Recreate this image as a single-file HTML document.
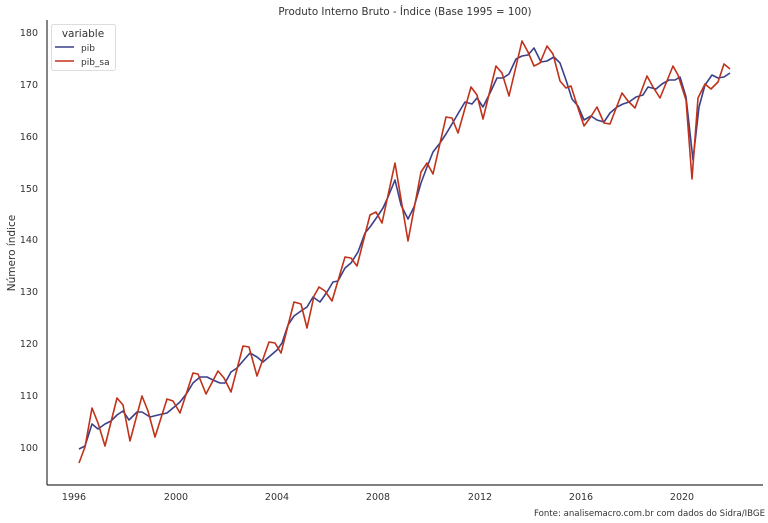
<!DOCTYPE html>
<html><head><meta charset="utf-8"><style>html,body{margin:0;padding:0;background:#fff}svg{display:block}text{font-family:"DejaVu Sans","Liberation Sans",sans-serif;fill:#333}</style></head>
<body>
<svg width="768" height="523" viewBox="0 0 768 523" xmlns="http://www.w3.org/2000/svg">
<rect width="768" height="523" fill="#fff"/>
<text x="405" y="15" font-size="10.3" text-anchor="middle">Produto Interno Bruto - Índice (Base 1995 = 100)</text>
<line x1="47" y1="20" x2="47" y2="485" stroke="#333" stroke-width="1.2"/>
<line x1="47" y1="485" x2="763" y2="485" stroke="#333" stroke-width="1.2"/>
<g font-size="9.5" text-anchor="end">
<text x="38" y="36">180</text><text x="38" y="88">170</text><text x="38" y="140">160</text><text x="38" y="192">150</text><text x="38" y="243">140</text><text x="38" y="295">130</text><text x="38" y="347">120</text><text x="38" y="399">110</text><text x="38" y="451">100</text>
</g>
<g font-size="9.5" text-anchor="middle">
<text x="74" y="500">1996</text><text x="176" y="500">2000</text><text x="277" y="500">2004</text><text x="378" y="500">2008</text><text x="480" y="500">2012</text><text x="581" y="500">2016</text><text x="682" y="500">2020</text>
</g>
<text transform="translate(15,253) rotate(-90)" font-size="10.5" text-anchor="middle">Número índice</text>
<text x="765" y="516" font-size="8.6" text-anchor="end">Fonte: analisemacro.com.br com dados do Sidra/IBGE</text>
<polyline fill="none" stroke="#39418a" stroke-width="1.6" stroke-linejoin="round" points="79,449 85,446 92,424 98,429 105,424 111,421 117,415 123,411 129,420 137,412 142,412 150,417 158,415 167,413 173,408 180,402 187,393 193,383 200,377 207,377 213,380 220,383 225,383 231,372 237,368 243,361 250,353 257,357 263,362 270,356 277,350 282,343 288,325 294,316 301,311 307,307 313,297 320,302 327,292 333,282 338,281 345,268 351,263 358,252 365,233 370,227 377,217 383,208 388,197 395,180 401,205 408,219 414,207 421,183 427,167 433,152 440,143 446,134 452,124 459,112 465,102 472,104 477,98 483,107 490,93 497,78 503,78 509,74 516,59 522,56 528,55 534,48 541,62 547,61 554,57 560,63 566,80 572,99 578,106 584,120 591,116 597,120 604,122 610,113 617,107 623,104 629,102 636,97 643,95 648,87 656,89 662,84 669,80 675,80 680,77 686,97 693,160 699,107 705,85 712,75 718,78 724,77 730,73"/>
<polyline fill="none" stroke="#c0321a" stroke-width="1.6" stroke-linejoin="round" points="79,463 85,447 92,408 98,423 105,446 117,398 123,405 130,441 142,396 148,411 155,437 167,399 173,401 180,413 193,373 198,374 206,394 218,371 224,378 231,392 243,346 249,347 257,376 269,342 275,343 281,353 294,302 301,304 307,328 314,296 319,287 325,291 332,301 345,257 351,258 357,266 370,215 376,212 382,223 395,163 408,241 421,172 427,163 433,174 446,117 452,118 458,133 471,87 477,95 483,119 496,66 502,73 509,96 522,41 528,52 534,66 540,63 547,46 553,54 560,81 566,88 571,86 577,105 584,126 590,118 597,107 604,123 610,124 622,93 628,101 635,108 647,76 653,87 660,98 673,66 678,75 686,100 692,179 698,98 705,84 711,89 718,82 724,64 730,69"/>
<rect x="51.5" y="24.5" width="64" height="46" rx="2" fill="#fff" fill-opacity="0.8" stroke="#ddd"/>
<text x="83" y="37" font-size="10.5" text-anchor="middle">variable</text>
<line x1="55" y1="47" x2="74" y2="47" stroke="#39418a" stroke-width="1.6"/>
<text x="81" y="51" font-size="9">pib</text>
<line x1="55" y1="61" x2="74" y2="61" stroke="#c0321a" stroke-width="1.6"/>
<text x="81" y="65" font-size="9">pib_sa</text>
</svg>
</body></html>
